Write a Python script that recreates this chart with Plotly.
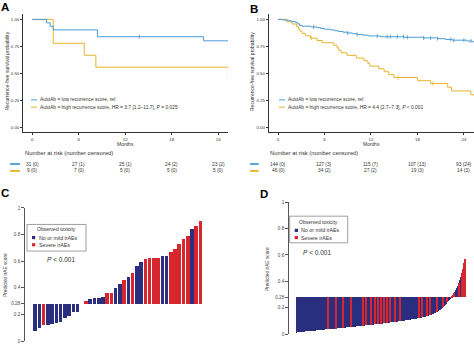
import plotly.graph_objects as go

W, H = 474, 348
FONT = "Liberation Sans, Arial, sans-serif"
BLUE_KM = "#4A9BD6"
YEL_KM = "#E6B52A"
NAVY = "#2A2E7E"
RED = "#D8262F"
AX = "#333333"

# ---------------- Panel A (Kaplan-Meier) ----------------
month_ticks = [0, 6, 12, 18, 24]
a_low_t = [0, 1.85, 2.3, 2.7, 8.4, 22.1, 25.3]
a_low_s = [1.0, 0.968, 0.935, 0.903, 0.839, 0.801, 0.801]
a_low_cens = [13.8]
a_high_t = [0, 2.7, 6.7, 8.2, 25.3]
a_high_s = [1.0, 0.778, 0.667, 0.556, 0.444]
a_high_cens = []
a_risk_low = ["31 (0)", "27 (1)", "25 (1)", "24 (2)", "23 (2)"]
a_risk_high = ["9 (0)", "7 (0)", "5 (0)", "5 (0)", "5 (0)"]
a_leg_low = "AutoAb = low recurrence score, ref"
a_leg_high = "AutoAb = high recurrence score, HR = 3.7 [1.2–11.7], <i>P</i> = 0.025"

# ---------------- Panel B (Kaplan-Meier) ----------------
b_low_t = [0, 0.73, 1.38, 1.8, 2.24, 2.5, 2.8, 3.1, 4.27, 5.0, 5.5, 6.0, 6.8, 7.3,
           7.8, 8.4, 8.9, 9.6, 10.2, 11.0, 11.7, 13.2, 16.3, 18.8, 20.6, 21.6,
           22.5, 24.4, 25.1, 25.3]
b_low_s = [1.0, 0.993, 0.986, 0.979, 0.972, 0.958, 0.944, 0.937, 0.930, 0.923,
           0.916, 0.909, 0.902, 0.895, 0.888, 0.881, 0.874, 0.867, 0.860, 0.853,
           0.846, 0.839, 0.834, 0.828, 0.821, 0.814, 0.807, 0.799, 0.792, 0.792]
b_low_cens = [4.6, 9.0, 10.2, 12.8, 14.1, 14.5, 15.4, 16.2, 16.7, 18.8, 19.7,
              20.6, 22.3, 22.7, 24.0, 24.9]
b_high_t = [0, 1.16, 1.81, 2.37, 2.67, 2.8, 3.1, 3.53, 4.18, 5.04, 5.7, 7.2, 7.63,
            7.84, 8.15, 8.9, 10.1, 11.1, 11.6, 11.85, 13.0, 13.7, 14.3, 14.96,
            18.0, 19.7, 21.9, 22.4, 24.9, 25.3]
b_high_s = [1.0, 0.978, 0.957, 0.935, 0.913, 0.891, 0.870, 0.848, 0.826, 0.804,
            0.783, 0.760, 0.736, 0.712, 0.690, 0.666, 0.641, 0.616, 0.591, 0.566,
            0.541, 0.514, 0.487, 0.460, 0.430, 0.405, 0.370, 0.335, 0.300, 0.292]
b_high_cens = [4.3, 15.5, 20.0]
b_risk_low = ["144 (0)", "127 (3)", "115 (7)", "107 (13)", "93 (24)"]
b_risk_high = ["46 (0)", "34 (2)", "27 (2)", "19 (3)", "14 (3)"]
b_leg_low = "AutoAb = low recurrence score, ref"
b_leg_high = "AutoAb = high recurrence score, HR = 4.4 [2.7–7.3], <i>P</i> &lt; 0.001"

# ---------------- Panel C (waterfall) ----------------
c_scores = [0.077, 0.098, 0.118, 0.123, 0.125, 0.138, 0.141, 0.172, 0.192, 0.217,
            0.220, 0.280, 0.300, 0.318, 0.325, 0.327, 0.329, 0.362, 0.363, 0.400,
            0.432, 0.461, 0.481, 0.511, 0.565, 0.593, 0.615, 0.622, 0.625, 0.627,
            0.637, 0.642, 0.667, 0.689, 0.733, 0.768, 0.793, 0.844, 0.867, 0.901]
c_severe = [0, 0, 1, 0, 0, 0, 0, 0, 0, 0,
            0, 0, 1, 0, 0, 0, 0, 1, 1, 0,
            0, 1, 0, 1, 0, 0, 1, 1, 1, 1,
            0, 0, 1, 1, 1, 1, 1, 0, 1, 1]

# ---------------- Panel D (waterfall) ----------------
d_scores = [
    0.010, 0.012, 0.013, 0.014, 0.015, 0.016, 0.017, 0.018, 0.019, 0.020,
    0.021, 0.022, 0.022, 0.023, 0.024, 0.025, 0.025, 0.026, 0.027, 0.027,
    0.028, 0.029, 0.030, 0.030, 0.031, 0.032, 0.033, 0.034, 0.034, 0.035,
    0.035, 0.036, 0.036, 0.037, 0.038, 0.038, 0.039, 0.040, 0.040, 0.041,
    0.042, 0.043, 0.043, 0.044, 0.045, 0.046, 0.046, 0.047, 0.048, 0.049,
    0.050, 0.050, 0.051, 0.052, 0.053, 0.054, 0.055, 0.055, 0.056, 0.057,
    0.058, 0.059, 0.060, 0.060, 0.061, 0.062, 0.063, 0.063, 0.064, 0.065,
    0.066, 0.067, 0.067, 0.068, 0.069, 0.070, 0.071, 0.072, 0.073, 0.074,
    0.074, 0.075, 0.076, 0.077, 0.078, 0.079, 0.080, 0.081, 0.082, 0.083,
    0.084, 0.085, 0.086, 0.087, 0.088, 0.089, 0.090, 0.091, 0.092, 0.093,
    0.094, 0.095, 0.096, 0.097, 0.098, 0.099, 0.100, 0.101, 0.102, 0.104,
    0.105, 0.106, 0.107, 0.108, 0.110, 0.111, 0.112, 0.113, 0.114, 0.116,
    0.117, 0.118, 0.120, 0.121, 0.123, 0.124, 0.126, 0.128, 0.130, 0.132,
    0.134, 0.136, 0.138, 0.141, 0.144, 0.147, 0.150, 0.154, 0.158, 0.162,
    0.166, 0.170, 0.175, 0.180, 0.186, 0.192, 0.199, 0.206, 0.214, 0.222,
    0.231, 0.240, 0.250, 0.260, 0.270, 0.279, 0.286, 0.296, 0.308, 0.320,
    0.334, 0.348, 0.365, 0.385, 0.408, 0.432, 0.460, 0.495, 0.535, 0.570]
d_severe_idx = [32, 40, 47, 55, 67, 70, 75, 79, 82, 85, 88, 91, 94, 99, 104, 123,
                126, 131, 134, 141, 147, 151, 155, 156, 157, 158, 163, 166,
                167, 168, 169]

score_ticks = [0, 0.2, 0.28, 0.4, 0.6, 0.8, 1]
score_ticktext = ["0", "0.2", "0.28", "0.4", "0.6", "0.8", "1"]
THRESH = 0.28


def fx(px):
    return px / W


def fy(py):
    return 1 - py / H


def step_at(ts, ss, t):
    v = ss[0]
    for ti, si in zip(ts, ss):
        if ti <= t:
            v = si
    return v


fig = go.Figure()

# KM curves
for xa, ya, t1, s1, c1, t2, s2, c2 in [
    ("x", "y", a_low_t, a_low_s, a_low_cens, a_high_t, a_high_s, a_high_cens),
    ("x2", "y2", b_low_t, b_low_s, b_low_cens, b_high_t, b_high_s, b_high_cens),
]:
    for t, s, cens, col in [(t2, s2, c2, YEL_KM), (t1, s1, c1, BLUE_KM)]:
        fig.add_trace(go.Scatter(x=t, y=s, mode="lines", line=dict(color=col, width=1, shape="hv"),
                                 xaxis=xa, yaxis=ya, hoverinfo="skip"))
        if cens:
            fig.add_trace(go.Scatter(x=cens, y=[step_at(t, s, c) for c in cens], mode="markers",
                                     marker=dict(symbol="line-ns", size=3, line=dict(color=col, width=0.8)),
                                     xaxis=xa, yaxis=ya, hoverinfo="skip"))

# Waterfall C
c_idx = list(range(len(c_scores)))
for flag, col in [(0, NAVY), (1, RED)]:
    xs = [i for i in c_idx if c_severe[i] == flag]
    fig.add_trace(go.Bar(x=xs, y=[c_scores[i] - THRESH for i in xs], base=THRESH, width=0.84,
                         marker=dict(color=col, line=dict(width=0)), xaxis="x3", yaxis="y3",
                         hoverinfo="skip"))

# Waterfall D
d_idx = list(range(len(d_scores)))
for sev, col in [(False, NAVY), (True, RED)]:
    xs = [i for i in d_idx if (i in d_severe_idx) == sev]
    fig.add_trace(go.Bar(x=xs, y=[d_scores[i] - THRESH for i in xs], base=THRESH, width=1.0,
                         marker=dict(color=col, line=dict(width=0)), xaxis="x4", yaxis="y4",
                         hoverinfo="skip"))

axstyle = dict(showline=True, linecolor=AX, linewidth=0.7, ticks="outside", ticklen=2,
               tickwidth=0.6, tickcolor=AX, showgrid=False, zeroline=False,
               tickfont=dict(size=4.4, color=AX, family=FONT))
wfstyle = dict(showline=True, linecolor="#555", linewidth=0.7, ticks="outside", ticklen=3,
               tickwidth=0.6, tickcolor="#555", showgrid=False, zeroline=False,
               tickfont=dict(size=4.6, color="#444", family=FONT),
               tickvals=score_ticks, ticktext=score_ticktext, range=[0, 1])

km_y = dict(range=[-0.05, 1.05], tickvals=[0, 0.25, 0.5, 0.75, 1],
            ticktext=["0.00", "0.25", "0.50", "0.75", "1.00"],
            domain=[fy(132.3), fy(12.2)], **axstyle)

fig.update_layout(
    width=W, height=H, margin=dict(l=0, r=0, t=0, b=0),
    paper_bgcolor="white", plot_bgcolor="white", showlegend=False,
    font=dict(family=FONT, color=AX),
    bargap=0,
    xaxis=dict(domain=[fx(23), fx(228)], range=[-1.2, 25.25], tickvals=month_ticks, anchor="y", **axstyle),
    yaxis=dict(anchor="x", **km_y),
    xaxis2=dict(domain=[fx(268.7), fx(474)], range=[-1.2, 25.3], tickvals=month_ticks, anchor="y2", **axstyle),
    yaxis2=dict(anchor="x2", **km_y),
    xaxis3=dict(domain=[fx(25), fx(203)], range=[-2.4, 39.6], visible=False, anchor="y3"),
    yaxis3=dict(domain=[fy(344), fy(209)], anchor="x3", **wfstyle),
    xaxis4=dict(domain=[fx(289), fx(466)], range=[-7.54, 170.5], visible=False, anchor="y4"),
    yaxis4=dict(domain=[fy(337), fy(203)], anchor="x4", **wfstyle),
)

anns = []
shapes = []


def ann(x, y, text, size=5, xanchor="left", color=AX, angle=0, bold=False, **kw):
    if bold:
        text = "<b>" + text + "</b>"
    d = dict(x=x if "xref" in kw else fx(x), y=fy(y), text=text, showarrow=False,
             xanchor=xanchor, yanchor="middle", textangle=angle,
             font=dict(size=size, color=color, family=FONT), borderpad=0)
    d.setdefault("xref", "paper")
    d["yref"] = "paper"
    d.update(kw)
    anns.append(d)


def hline(x0, x1, y, col, w=1.0):
    shapes.append(dict(type="line", xref="paper", yref="paper", x0=fx(x0), x1=fx(x1),
                       y0=fy(y), y1=fy(y), line=dict(color=col, width=w)))


# Panel labels
ann(0, 5, "A", size=11.5, bold=True, color="black")
ann(249.5, 7, "B", size=11.5, bold=True, color="black")
ann(0, 194, "C", size=11.5, bold=True, color="black")
ann(258.5, 195, "D", size=11.5, bold=True, color="black")

# KM annotations
for (xref, ylab_x, leg_x, key_x0, key_x1, risk_key0, risk_key1, hdr_x, months_x,
     leg_low, leg_high, risk_low, risk_high) in [
    ("x", 6.5, 39, 31, 37, 10, 20, 24, 125, a_leg_low, a_leg_high, a_risk_low, a_risk_high),
    ("x2", 252, 287, 279, 285, 250, 258.7, 269, 371, b_leg_low, b_leg_high, b_risk_low, b_risk_high),
]:
    ann(ylab_x, 70, "Recurrence-free survival probability", size=5, xanchor="center", angle=-90)
    ann(months_x, 143.6, "Months", size=5, xanchor="center")
    ann(leg_x, 99.3, leg_low, size=4.9)
    ann(leg_x, 106.7, leg_high, size=4.9)
    hline(key_x0, key_x1, 99.3, BLUE_KM, 1)
    hline(key_x0, key_x1, 106.7, YEL_KM, 1)
    ann(hdr_x, 153, "Number at risk (number censored)", size=5.8)
    hline(risk_key0, risk_key1, 164.4, BLUE_KM, 1.8)
    hline(risk_key0, risk_key1, 171.4, YEL_KM, 1.8)
    for m, lo, hi in zip(month_ticks, risk_low, risk_high):
        anns.append(dict(x=m, xref=xref, y=fy(164.4), yref="paper", text=lo, showarrow=False,
                         xanchor="center", yanchor="middle", font=dict(size=4.8, color=AX, family=FONT)))
        anns.append(dict(x=m, xref=xref, y=fy(171.4), yref="paper", text=hi, showarrow=False,
                         xanchor="center", yanchor="middle", font=dict(size=4.8, color=AX, family=FONT)))

# Waterfall legends / labels
for (box, title_c, title_y, sq_x0, sq_x1, sq_y1, sq_y2, txt_x, p_x, p_y, ylab_x, ylab_y) in [
    ((27, 86, 225.7, 252.7), 56.5, 230.7, 32, 35.2, 239, 246.3, 37.5, 61, 261.7, 5, 277),
    ((289.7, 347.7, 217.3, 244.3), 318.7, 222.7, 294.7, 298, 231.7, 239, 300.3, 317, 254, 267, 271),
]:
    shapes.append(dict(type="rect", xref="paper", yref="paper", x0=fx(box[0]), x1=fx(box[1]),
                       y0=fy(box[3]), y1=fy(box[2]), line=dict(color="#777", width=0.7)))
    ann(title_c, title_y, "Observed toxicity", size=5, xanchor="center", color="#333")
    for yy, col, lab in [(sq_y1, NAVY, "No or mild irAEs"), (sq_y2, RED, "Severe irAEs")]:
        shapes.append(dict(type="rect", xref="paper", yref="paper", x0=fx(sq_x0), x1=fx(sq_x1),
                           y0=fy(yy + 1.6), y1=fy(yy - 1.6), line=dict(width=0), fillcolor=col))
        ann(txt_x, yy, lab, size=5.3, color="#333")
    ann(p_x, p_y, "<i>P</i> &lt; 0.001", size=6.5, xanchor="center", color="#333")
    ann(ylab_x, ylab_y, "Predicted irAE score", size=4.8, xanchor="center", angle=-90, color="#444")

fig.update_layout(annotations=anns, shapes=shapes)
fig.write_html("out.html")
